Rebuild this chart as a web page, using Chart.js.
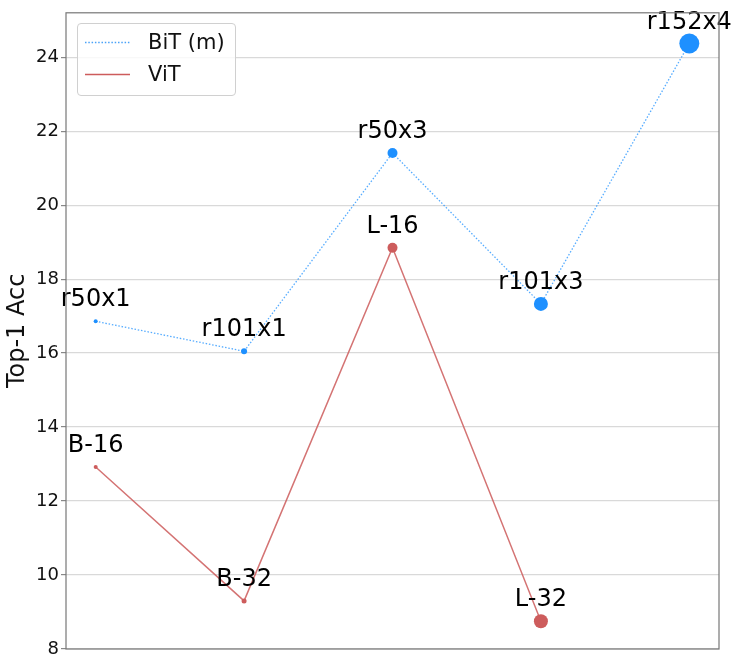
<!DOCTYPE html>
<html>
<head>
<meta charset="utf-8">
<script src="https://cdn.jsdelivr.net/npm/chart.js@4.4.0/dist/chart.umd.min.js"></script>
<style>
  html, body { margin: 0; padding: 0; background: #fff; }
  #wrap { position: relative; width: 745px; height: 669px; }
  #legend {
    position: absolute; left: 77px; top: 23px; width: 157px; height: 71px;
    border: 1px solid #d0d0d0; border-radius: 4px; background: rgba(255,255,255,0.8);
    font-family: 'DejaVu Sans', sans-serif; font-size: 21px; color: #111;
  }
  .row { position: absolute; left: 0; height: 26px; line-height: 26px; width: 157px; }
  .row span { position: absolute; left: 70px; white-space: nowrap; }
  .row svg { position: absolute; left: 7px; top: 0; }
</style>
</head>
<body>
<div id="wrap">
  <canvas id="c" width="745" height="669"></canvas>
  <div id="legend">
    <div class="row" style="top:5px">
      <svg width="46" height="26"><line x1="0" y1="13.5" x2="45" y2="13.5" stroke="#4aa2f8" stroke-width="1.3" stroke-dasharray="1.5,1.8"/></svg>
      <span>BiT (m)</span>
    </div>
    <div class="row" style="top:37px">
      <svg width="46" height="26"><line x1="0" y1="13.5" x2="45" y2="13.5" stroke="#cd5c5c" stroke-width="1.5"/></svg>
      <span>ViT</span>
    </div>
  </div>
</div>
<script>
// BiT (m) models
const bitNames = ['r50x1', 'r101x1', 'r50x3', 'r101x3', 'r152x4'];
const bitAcc = [16.86, 16.05, 21.41, 17.33, 24.37];
const bitSize = [2, 3, 5, 7, 10];

// ViT models
const vitNames = ['B-16', 'B-32', 'L-16', 'L-32'];
const vitAcc = [12.92, 9.30, 18.85, 8.75];
const vitSize = [2, 2.5, 5, 7];

const yTicks = [8, 10, 12, 14, 16, 18, 20, 22, 24];

const toPoints = vals => vals.map((v, i) => ({ x: i, y: v }));

// names drawn above each point
const pointLabels = {
  id: 'pointLabels',
  afterDatasetsDraw(chart) {
    const ctx = chart.ctx;
    ctx.save();
    ctx.font = '24px "DejaVu Sans", sans-serif';
    ctx.fillStyle = '#000';
    ctx.textAlign = 'center';
    ctx.textBaseline = 'alphabetic';
    chart.data.datasets.forEach((ds, di) => {
      chart.getDatasetMeta(di).data.forEach((pt, i) => {
        ctx.fillText(ds.names[i], pt.x, pt.y - 15);
      });
    });
    ctx.restore();
  }
};

// matplotlib-like box around the axes
const frame = {
  id: 'frame',
  afterDraw(chart) {
    const { left, right, top, bottom } = chart.chartArea;
    const ctx = chart.ctx;
    ctx.save();
    ctx.strokeStyle = '#777';
    ctx.lineWidth = 1.2;
    ctx.strokeRect(left, top, right - left, bottom - top);
    ctx.restore();
  }
};

new Chart(document.getElementById('c'), {
  type: 'line',
  data: {
    datasets: [
      {
        label: 'BiT (m)',
        names: bitNames,
        data: toPoints(bitAcc),
        borderColor: 'rgba(30,144,255,0.75)',
        borderWidth: 1.3,
        borderDash: [1.5, 1.8],
        backgroundColor: '#1e90ff',
        pointBackgroundColor: '#1e90ff',
        pointBorderWidth: 0,
        pointRadius: bitSize,
        tension: 0,
      },
      {
        label: 'ViT',
        names: vitNames,
        data: toPoints(vitAcc),
        borderColor: 'rgba(205,92,92,0.85)',
        borderWidth: 1.5,
        backgroundColor: '#cd5c5c',
        pointBackgroundColor: '#cd5c5c',
        pointBorderWidth: 0,
        pointRadius: vitSize,
        tension: 0,
      },
    ],
  },
  options: {
    responsive: false,
    animation: false,
    layout: { padding: { left: 0, right: 26, top: 12, bottom: 20 } },
    plugins: {
      legend: { display: false },
      tooltip: { enabled: false },
    },
    scales: {
      x: {
        type: 'linear',
        min: -0.2,
        max: 4.2,
        display: false,
      },
      y: {
        min: 8,
        max: 25.2,
        afterBuildTicks: scale => {
          scale.ticks = yTicks.map(v => ({ value: v }));
        },
        afterFit: scale => { scale.width = 66; },
        grid: {
          color: '#d9d9d9',
          lineWidth: 1.2,
          tickLength: 5,
          tickColor: '#888',
        },
        border: { display: false },
        ticks: {
          padding: 2,
          color: '#111',
          font: { family: '"DejaVu Sans", sans-serif', size: 18 },
        },
        title: {
          display: true,
          text: 'Top-1 Acc',
          color: '#111',
          padding: { top: 3, bottom: 0 },
          font: { family: '"DejaVu Sans", sans-serif', size: 24 },
        },
      },
    },
  },
  plugins: [pointLabels, frame],
});
</script>
</body>
</html>
